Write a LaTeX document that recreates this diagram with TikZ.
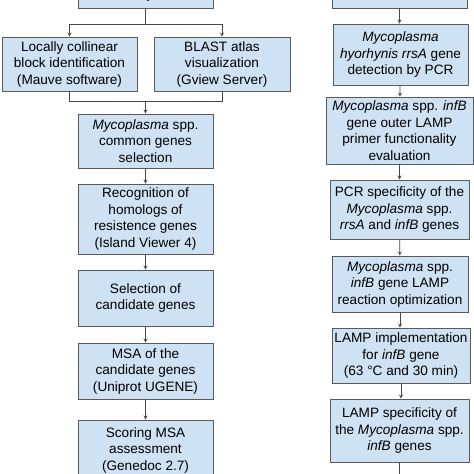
\documentclass[tikz,border=0pt]{standalone}
\usepackage{fontspec}
\setmainfont{Liberation Sans}
\usepackage{tikz}
\usetikzlibrary{shapes.geometric, arrows}
\definecolor{boxblue}{RGB}{207,226,243}
\definecolor{boxline}{RGB}{90,90,90}
\tikzstyle{process} = [rectangle, minimum width=135pt, inner sep=1pt, align=center, draw=boxline, line width=0.9pt, fill=boxblue, font=\fontsize{13.6}{16.5}\selectfont]
\tikzstyle{arrow} = [line width=0.8pt, draw=boxline!80!black, ->, >=stealth]
\tikzstyle{line} = [line width=0.8pt, draw=boxline!80!black]

\begin{document}
\begin{tikzpicture}[x=1pt, y=-1pt]
\clip (0,0) rectangle (474,474);
% left column
\node (top1) [process, minimum height=27pt] at (145.5,-5.5) {analysis};
\node (pro1) [process, minimum height=54pt] at (69.5,64) {Locally collinear\\block identification\\(Mauve software)};
\node (pro2) [process, minimum width=136pt, minimum height=54pt] at (222,64) {BLAST atlas\\visualization\\(Gview Server)};
\node (pro3) [process, minimum height=54pt] at (145.5,141) {\textit{Mycoplasma} spp.\\common genes\\selection};
\node (pro4) [process, minimum height=70pt] at (145.5,219) {Recognition of\\homologs of\\resistence genes\\(Island Viewer 4)};
\node (pro5) [process, minimum height=56pt] at (145.5,298) {Selection of\\candidate genes};
\node (pro6) [process, minimum height=56pt] at (145.5,371) {MSA of the\\candidate genes\\(Uniprot UGENE)};
\node (pro7) [process, minimum height=60pt] at (145.5,450) {Scoring MSA\\assessment\\(Genedoc 2.7)};
\coordinate (split) at (145.5,24);
\coordinate (merge) at (145.5,101);

% right column
\node (top2) [process, minimum height=36pt] at (399.5,-10) {};
\node (lab1) [process, minimum height=61pt] at (400.5,54.5) {\textit{Mycoplasma}\\\textit{hyorhynis rrsA} gene\\detection by PCR};
\node (lab2) [process, minimum width=147pt, minimum height=67pt] at (399.5,130.5) {\textit{Mycoplasma} spp. \textit{infB}\\gene outer LAMP\\primer functionality\\evaluation};
\node (lab3) [process, minimum width=139pt, minimum height=59pt] at (399.5,209.5) {PCR specificity of the\\\textit{Mycoplasma} spp.\\\textit{rrsA} and \textit{infB} genes};
\node (lab4) [process, minimum width=136pt, minimum height=56pt] at (400,284) {\textit{Mycoplasma} spp.\\\textit{infB} gene LAMP\\reaction optimization};
\node (lab5) [process, minimum width=138pt, minimum height=55pt] at (401,355.5) {LAMP implementation\\for \textit{infB} gene\\(63 °C and 30 min)};
\node (lab6) [process, minimum width=139pt, minimum height=63pt] at (399.5,430.5) {LAMP specificity of\\the \textit{Mycoplasma} spp.\\\textit{infB} genes};
\coordinate (out) at (399.5,480);

\draw [line] (top1) -- (split);
\draw [arrow] (split) -| (pro1);
\draw [arrow] (split) -| (pro2);
\draw [line] (pro1) |- (merge);
\draw [line] (pro2) |- (merge);
\draw [arrow] (merge) -- (pro3);
\draw [arrow] (pro3) -- (pro4);
\draw [arrow] (pro4) -- (pro5);
\draw [arrow] (pro5) -- (pro6);
\draw [arrow] (pro6) -- (pro7);
\draw [arrow] (top2.south) -- (top2.south |- lab1.north);
\draw [arrow] (lab1) -- (lab2);
\draw [arrow] (lab2) -- (lab3);
\draw [arrow] (lab3) -- (lab4);
\draw [arrow] (lab4.south) -- (lab4.south |- lab5.north);
\draw [arrow] (lab5.south) -- (lab5.south |- lab6.north);
\draw [arrow] (lab6.south) -- (out);
\end{tikzpicture}
\end{document}
